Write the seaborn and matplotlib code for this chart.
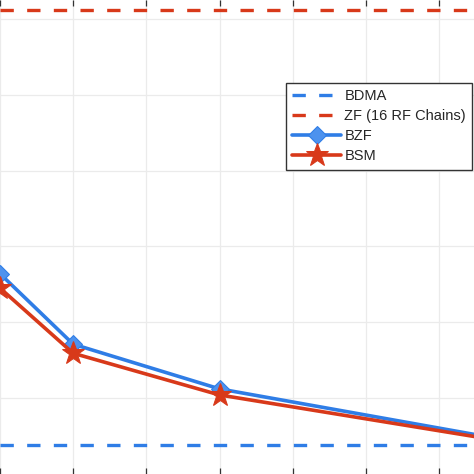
import matplotlib
matplotlib.use("Agg")
import matplotlib.pyplot as plt
import seaborn as sns
import numpy as np
import pandas as pd

# data
x_vals = [1, 2, 4, 8]
bzf = [2.64, 1.71, 1.12, 0.43]
bsm = [2.45, 1.59, 1.04, 0.41]
bdma_level = 0.38
zf_level = 6.12
x_ticks = [1, 2, 3, 4, 5, 6, 7, 8]
y_grid = [1, 2, 3, 4, 5, 6]

sns.set_theme(style="white")
plt.rcParams['font.family'] = ['Liberation Sans', 'DejaVu Sans']

BLUE = "#2f7de6"
RED = "#d8391a"

fig = plt.figure(figsize=(4.74, 4.74), dpi=100)
ax = fig.add_axes([0, 0, 1, 1])

df = pd.DataFrame({"x": x_vals * 2, "y": bzf + bsm,
                   "method": ["BZF"] * len(x_vals) + ["BSM"] * len(x_vals)})

ax.axhline(bdma_level, color=BLUE, lw=2.4, ls=(0, (4, 4)), label="BDMA", zorder=3)
ax.axhline(zf_level, color=RED, lw=2.4, ls=(0, (4, 4)), label="ZF (16 RF Chains)", zorder=3)

sns.lineplot(data=df[df.method == "BZF"], x="x", y="y", ax=ax, color=BLUE, lw=2.6,
             marker="D", markersize=9, markeredgecolor=BLUE, markerfacecolor="#4d92ee",
             label="BZF", zorder=4)
sns.lineplot(data=df[df.method == "BSM"], x="x", y="y", ax=ax, color=RED, lw=2.6,
             marker="*", markersize=17, markeredgecolor=RED, markerfacecolor=RED,
             label="BSM", zorder=5)

ax.set_xticks(x_ticks)
ax.set_yticks(y_grid)
ax.set_xlim(1, 1 + 474 / 73.17)
ax.set_ylim(-0.003, 6.251)
ax.set_xticklabels([])
ax.set_yticklabels([])
ax.set_xlabel("")
ax.set_ylabel("")
ax.grid(True, color="#ebebeb", lw=0.9)
ax.tick_params(axis="x", which="both", direction="in", top=True, bottom=True,
               length=4, width=0.9, color="#333333")
ax.tick_params(axis="y", left=False, right=False, length=0)
for s in ax.spines.values():
    s.set_visible(False)

leg = ax.legend(loc="upper right", bbox_to_anchor=(472 / 474, 1 - 83 / 474),
                bbox_transform=fig.transFigure, frameon=True, fancybox=False,
                fontsize=10.5, handlelength=3.3, handletextpad=0.25,
                labelspacing=0.42, borderpad=0.42, borderaxespad=0)
leg.get_frame().set_edgecolor("#333333")
leg.get_frame().set_linewidth(1.0)
leg.get_frame().set_facecolor("white")
leg.get_frame().set_alpha(1)

fig.savefig("out.png", dpi=100)
